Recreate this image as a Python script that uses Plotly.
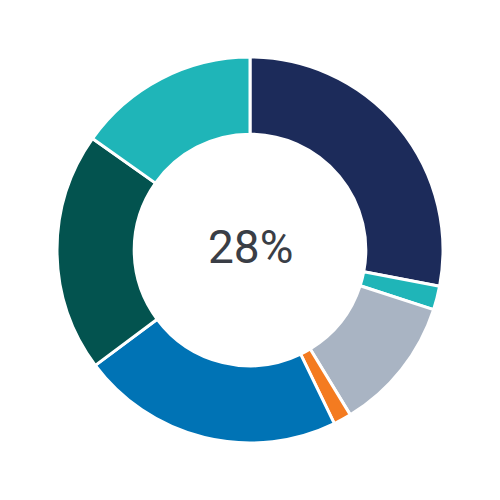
import plotly.graph_objects as go

labels = ["A", "B", "C", "D", "E", "F", "G"]
values = [28, 2, 11.3, 1.5, 22, 20, 15.2]
colors = ["#1c2b5a", "#1fb5b8", "#a9b4c3", "#f47b20", "#0073b5", "#03534f", "#1fb5b8"]
center_text = "28%"

fig = go.Figure(go.Pie(
    labels=labels, values=values, hole=0.6, sort=False, direction="clockwise",
    rotation=0, textinfo="none", hoverinfo="label+percent",
    marker=dict(colors=colors, line=dict(color="white", width=3)),
))
fig.update_layout(
    width=500, height=500, margin=dict(l=49, r=65, t=49, b=65),
    showlegend=False, paper_bgcolor="white", plot_bgcolor="white",
    annotations=[dict(text=center_text, x=0.5, y=0.5, xref="paper", yref="paper", yshift=3,
                      showarrow=False, font=dict(size=46, color="#3a3e46", family="Roboto"))],
)
fig.write_html("out.html")
